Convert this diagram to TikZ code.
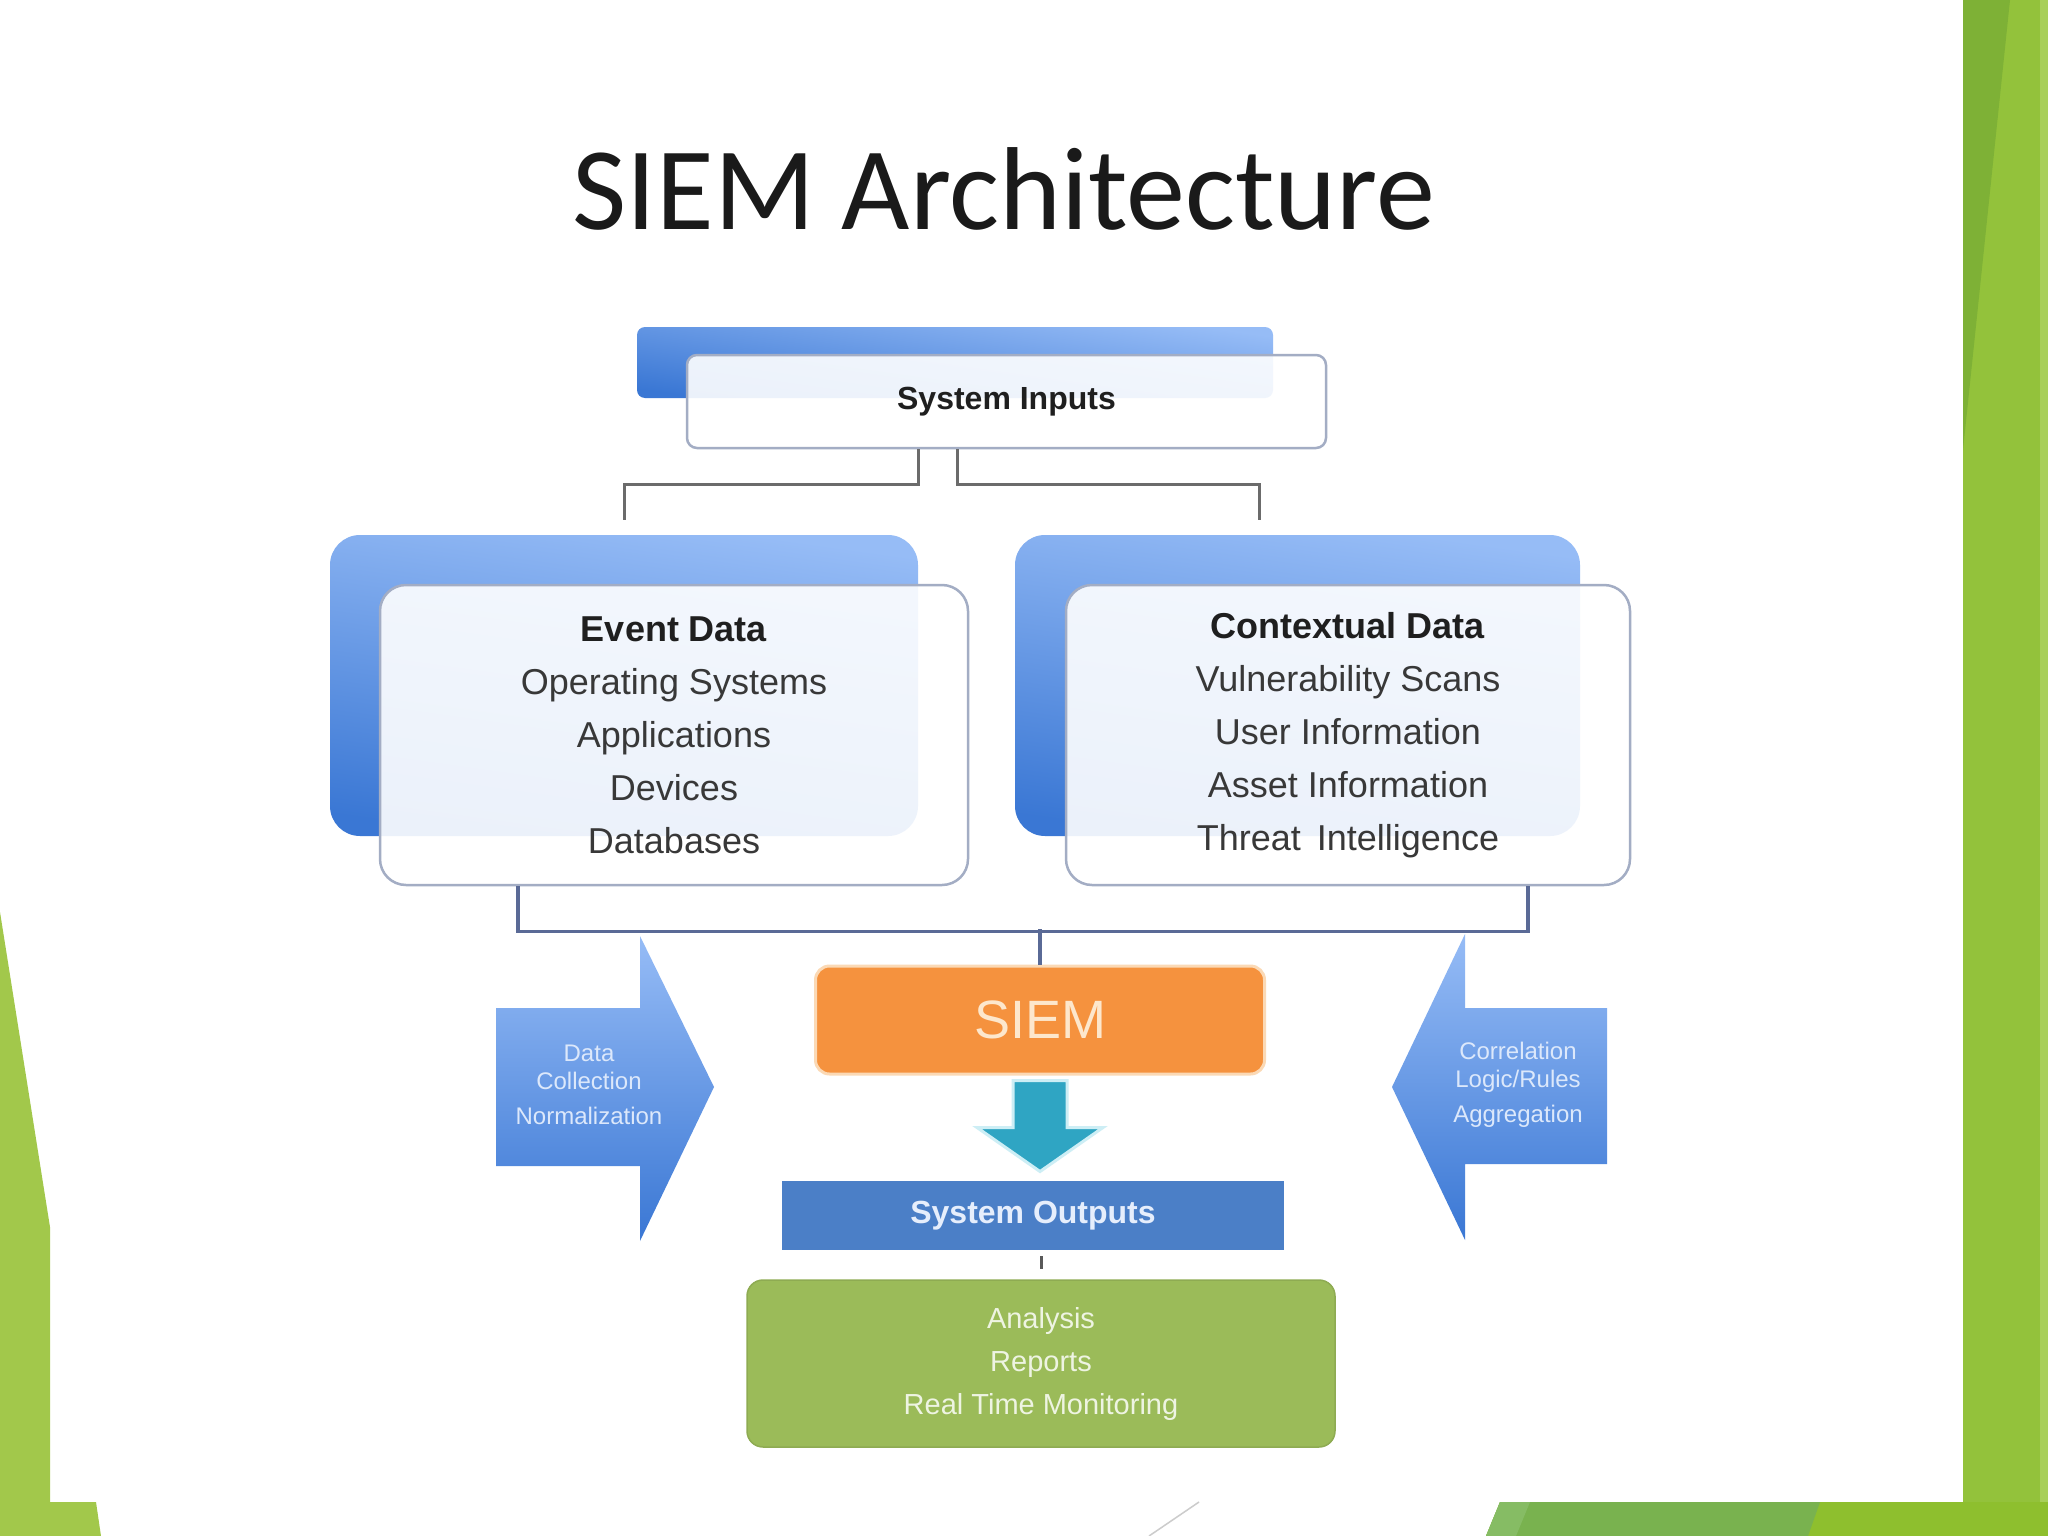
\documentclass[tikz,border=0pt]{standalone}
\usepackage{fontspec}
\setmainfont{Liberation Sans}
\newfontfamily\titlefont{Carlito}
\usetikzlibrary{calc}
\definecolor{bluetop}{HTML}{96BCF6}
\definecolor{bluebot}{HTML}{3A77D4}
\definecolor{boxedge}{HTML}{A3ADC4}
\definecolor{conngrey}{HTML}{6B6B6B}
\definecolor{busblue}{HTML}{5A6A96}
\definecolor{siemorange}{HTML}{F5923E}
\definecolor{siemedge}{HTML}{FBD9B5}
\definecolor{siemtxt}{HTML}{FDE7CC}
\definecolor{tealfill}{HTML}{2FA5C3}
\definecolor{tealedge}{HTML}{CDEEF5}
\definecolor{sobl}{HTML}{4B7FC7}
\definecolor{sotxt}{HTML}{E6EEFC}
\definecolor{outgreen}{HTML}{9BBB59}
\definecolor{outedge}{HTML}{8EAB52}
\definecolor{outtxt}{HTML}{EEF4E2}
\definecolor{arrowtxtc}{HTML}{DCE8FB}
\definecolor{headtxt}{HTML}{1F1F1F}
\definecolor{itemtxt}{HTML}{383838}
\definecolor{titlec}{HTML}{1A1A1A}
\definecolor{leftgreen}{HTML}{A2C84B}
\definecolor{rightgreen}{HTML}{93C23B}
\definecolor{rightdark}{HTML}{7EB136}
\definecolor{rightlight}{HTML}{A8CF5A}
\definecolor{botdark}{HTML}{79B24F}
\definecolor{botlight}{HTML}{8EBF2E}
\definecolor{botedge}{HTML}{86BC64}
\begin{document}
\begin{tikzpicture}[x=1pt,y=-1pt,
  backbox/.style={rounded corners=30pt, top color=bluetop, bottom color=bluebot, shading angle=-8, draw=none, inner sep=0pt},
  frontbox/.style={rounded corners=26pt, draw=boxedge, line width=2.5pt, fill=white, fill opacity=0.9, text opacity=1, inner sep=0pt, align=center, text=itemtxt, font=\fontsize{36}{53}\selectfont},
  conn/.style={draw=conngrey, line width=3pt},
  busline/.style={draw=busblue, line width=3.5pt},
  blockarrow/.style={top color=bluetop, bottom color=bluebot, draw=none},
  arrowtxt/.style={text=arrowtxtc, align=center, inner sep=0pt, font=\fontsize{24}{28}\selectfont},
  siembox/.style={rounded corners=14pt, fill=siemorange, draw=siemedge, line width=3pt, text=siemtxt, font=\fontsize{54}{60}\selectfont},
  tealarrow/.style={fill=tealfill, draw=tealedge, line width=3pt, line join=miter},
  outbar/.style={fill=sobl, draw=none, text=sotxt, font=\bfseries\fontsize{32}{38}\selectfont},
  outbox/.style={rounded corners=16pt, fill=outgreen, draw=outedge, line width=1.5pt, align=center, text=outtxt, font=\fontsize{29}{43}\selectfont},
]
\useasboundingbox (0,0) rectangle (2048,1536);
\fill[white] (0,0) rectangle (2048,1536);

% decorative green frame
\fill[leftgreen] (0,912) -- (50,1227) -- (50,1502) -- (96,1502) -- (101,1536) -- (0,1536) -- cycle;
\fill[rightgreen] (1963,0) rectangle (2048,1536);
\fill[rightdark] (1963,0) -- (2010,0) -- (1963,450) -- cycle;
\fill[rightlight] (2040,0) rectangle (2048,1536);
\fill[botlight] (1486,1536) -- (1500,1502) -- (2048,1502) -- (2048,1536) -- cycle;
\fill[botdark] (1486,1536) -- (1500,1502) -- (1820,1502) -- (1808,1536) -- cycle;
\fill[botedge] (1486,1536) -- (1500,1502) -- (1530,1502) -- (1516,1536) -- cycle;
\draw[draw=black!20, line width=1.5pt] (1149,1536) -- (1199,1502);

% title
\node[font=\titlefont\fontsize{118}{130}\selectfont, text=titlec, anchor=base, inner sep=0pt] (title) at (1004,229) {SIEM Architecture};

% system inputs
\node[backbox, rounded corners=8pt, minimum width=636pt, minimum height=71pt] (sib) at (955,362.5) {};
\node[frontbox, rounded corners=10pt, minimum width=639pt, minimum height=93pt, font=\bfseries\fontsize{32}{38}\selectfont, text=headtxt] (si) at (1006.5,401.5) {System Inputs};

% event data
\node[backbox, minimum width=588pt, minimum height=301pt] (evb) at (624,685.5) {};
\node[frontbox, minimum width=588pt, minimum height=300pt] (ev) at (674,735) {{\bfseries\color{headtxt}Event Data}\\Operating Systems\\Applications\\Devices\\Databases};

% contextual data
\node[backbox, minimum width=565pt, minimum height=301pt] (cxb) at (1297.5,685.5) {};
\node[frontbox, minimum width=564pt, minimum height=300pt] (cx) at (1348,735) {{\bfseries\color{headtxt}Contextual Data}\\Vulnerability Scans\\User Information\\Asset Information\\Threat\,\ Intelligence};

% connectors from system inputs
\coordinate (inL) at (624,520);
\coordinate (inR) at (1259,520);
\draw[conn] ([xshift=-88.5pt]si.south) -- ++(0,35) -| (inL);
\draw[conn] ([xshift=-49.5pt]si.south) -- ++(0,35) -| (inR);

% SIEM
\node[siembox, minimum width=449pt, minimum height=108pt] (siem) at (1040,1020) {SIEM};

% bus into SIEM
\draw[busline] ([xshift=-156pt]ev.south) -- ++(0,45) -| ([xshift=180pt]cx.south);
\draw[busline] (siem.north) -- ++(0,-36);

% side block arrows
\path[blockarrow] (496,1008) -- (640,1008) -- (640,936) -- (714,1087) -- (640,1241) -- (640,1166) -- (496,1166) -- cycle;
\node[arrowtxt] (dc) at (589,1085) {Data\\Collection\\[7pt]Normalization};
\path[blockarrow] (1607,1008) -- (1465,1008) -- (1465,934) -- (1392,1087) -- (1465,1240) -- (1465,1164) -- (1607,1164) -- cycle;
\node[arrowtxt] (cl) at (1518,1085) {Correlation\\Logic/Rules\\[7pt]Aggregation};

% outputs
\node[outbar, minimum width=502pt, minimum height=69pt] (so) at (1033,1215.5) {System Outputs};
\path (siem.south) ++(0,5) coordinate (ta);
\draw[tealarrow] (ta) ++(-27,0) -- ++(54,0) -- ++(0,47) -- ++(36,0) -- ++(-63,44) -- ++(-63,-44) -- ++(36,0) -- cycle;

\node[outbox, minimum width=588pt, minimum height=167pt] (out) at (1041,1363.5) {Analysis\\Reports\\Real Time Monitoring};
\draw[line width=3pt, draw=black!65] ([yshift=-6pt]so.south -| out.north) -- ([yshift=10pt]out.north);
\end{tikzpicture}
\end{document}
